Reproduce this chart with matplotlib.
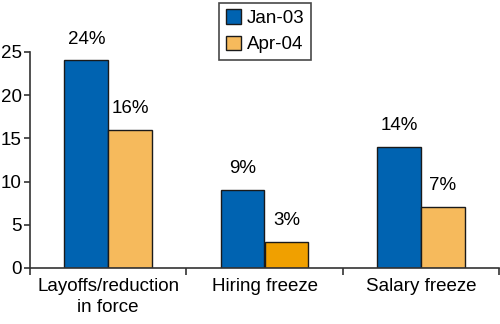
import matplotlib
matplotlib.use("Agg")
import matplotlib.pyplot as plt
import numpy as np

categories = ["Layoffs/reduction\nin force", "Hiring freeze", "Salary freeze"]
jan03 = [24, 9, 14]
apr04 = [16, 3, 7]
series_names = ["Jan-03", "Apr-04"]

plt.rcParams['font.family'] = ['Liberation Sans', 'DejaVu Sans']
fig = plt.figure(figsize=(5.0, 3.24), dpi=100)
ax = fig.add_axes([0.06, 0.173, 0.938, 0.667])

x = np.arange(len(categories))
w = 0.28
blue = "#0063B1"
orange = "#F6BA5C"
orange_dark = "#F0A000"
b1 = ax.bar(x - w/2, jan03, w, color=blue, edgecolor="#1a1a1a", linewidth=1.0, label=series_names[0])
ocolors = [orange, orange_dark, orange]
b2 = ax.bar(x + w/2, apr04, w, color=ocolors, edgecolor="#1a1a1a", linewidth=1.0, label=series_names[1])

fs = 13.5
for xi, v in zip(x - w/2, jan03):
    ax.text(xi, v + 1.5, f"{v}%", ha="center", va="bottom", fontsize=fs)
for xi, v in zip(x + w/2, apr04):
    ax.text(xi, v + 1.5, f"{v}%", ha="center", va="bottom", fontsize=fs)

ax.set_xlim(-0.5, 2.5)
ax.set_ylim(0, 25)
ax.set_yticks([0, 5, 10, 15, 20, 25])
ax.set_xticks(x)
ax.set_xticklabels(categories, fontsize=fs, linespacing=1.35)
ax.set_xticks([-0.5, 0.5, 1.5, 2.5], minor=True)
ax.tick_params(axis="x", which="major", length=0, pad=7)
ax.tick_params(axis="x", which="minor", length=5, width=1.2, color="#333333")
ax.tick_params(axis="y", length=4, width=1.2, color="#333333", labelsize=fs, pad=2)
for s in ["top", "right"]:
    ax.spines[s].set_visible(False)
for s in ["left", "bottom"]:
    ax.spines[s].set_color("#333333")
    ax.spines[s].set_linewidth(1.2)
ax.spines["bottom"].set_zorder(5)

leg = fig.legend(handles=[b1, b2], labels=series_names, loc="upper center",
                 bbox_to_anchor=(0.53, 1.0), fontsize=13.5, frameon=True, fancybox=False,
                 edgecolor="#1a1a1a", handlelength=0.8, handleheight=0.8, handletextpad=0.3,
                 borderpad=0.35, labelspacing=0.45, borderaxespad=0.15)
leg.get_frame().set_linewidth(1.2)
leg.legend_handles[1].set_facecolor(orange)

fig.savefig("out.png", dpi=100)
